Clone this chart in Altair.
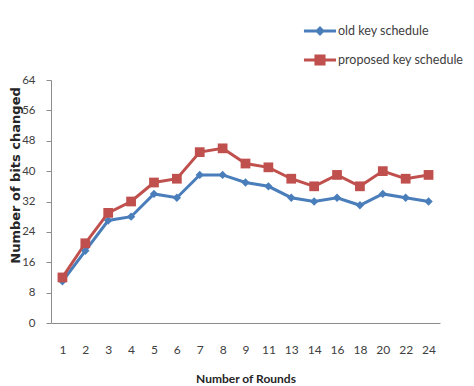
import altair as alt
import pandas as pd

rounds = ["1", "2", "3", "4", "5", "6", "7", "8", "9", "11", "13", "14", "16", "18", "20", "22", "24"]
old_key = [11, 19, 27, 28, 34, 33, 39, 39, 37, 36, 33, 32, 33, 31, 34, 33, 32]
proposed_key = [12, 21, 29, 32, 37, 38, 45, 46, 42, 41, 38, 36, 39, 36, 40, 38, 39]
series_names = ["old key schedule", "proposed key schedule"]
y_ticks = [0, 8, 16, 24, 32, 40, 48, 56, 64]
colors = ["#4A7EBB", "#C0504D"]

n = len(rounds)
df = pd.DataFrame({
    "round": rounds * 2,
    "idx": list(range(n)) * 2,
    "bits": old_key + proposed_key,
    "series": [series_names[0]] * n + [series_names[1]] * n,
})

color_scale = alt.Scale(domain=series_names, range=colors)

x_enc = alt.X(
    "round:O", sort=rounds,
    scale=alt.Scale(type="point", padding=0.5),
    axis=alt.Axis(
        title="Number of Rounds", labelAngle=0, ticks=False, tickSize=0,
        labelPadding=21, labelFont="Lato", labelFontSize=12, labelColor="#404040",
        domainColor="#8c8c8c", domainWidth=1,
        titleFont="Lato", titleFontSize=12, titleFontWeight="bold", titleColor="#262626",
        titleY=55, titleBaseline="middle",
    ),
)
y_enc = alt.Y(
    "bits:Q",
    scale=alt.Scale(domain=[0, 64], nice=False),
    axis=alt.Axis(
        values=y_ticks, grid=False, tickSize=5, tickColor="#8c8c8c",
        domainColor="#8c8c8c", labelPadding=11, labelFont="Lato", labelFontSize=11.5,
        labelColor="#404040",
        title="Number of bits changed", titleFont="DejaVu Sans", titleFontSize=13,
        titleFontWeight="bold", titleColor="#262626",
        titleX=-29, titleY=95, titleAlign="center",
    ),
)

base = alt.Chart(df)

lines = base.mark_line(strokeWidth=3).encode(
    x=x_enc, y=y_enc,
    color=alt.Color("series:N", scale=color_scale, legend=None),
    order=alt.Order("idx:Q"),
)

points = base.mark_point(filled=True, opacity=1).encode(
    x=x_enc, y=y_enc,
    color=alt.Color("series:N", scale=color_scale, legend=None),
    shape=alt.Shape("series:N", scale=alt.Scale(domain=series_names, range=["diamond", "square"]), legend=None),
    size=alt.Size("series:N", scale=alt.Scale(domain=series_names, range=[70, 95]), legend=None),
)

leg_paths = [
    "M-1.07,-0.1H1.07V0.1H-1.07Z M0,-0.33L0.33,0L0,0.33L-0.33,0Z",
    "M-1.07,-0.1H1.07V0.1H-1.07Z M-0.37,-0.37H0.37V0.37H-0.37Z",
]
legend = alt.Legend(
    title=None, orient="none", legendX=254, legendY=-64, symbolSize=900,
    symbolStrokeWidth=0, labelFont="Lato", labelFontSize=12.5, labelColor="#404040",
    labelOffset=3, rowPadding=7, padding=0, symbolOffset=0,
)
legend_layer = base.transform_filter("false").mark_point(filled=True, opacity=1).encode(
    color=alt.Color("series:N", scale=color_scale, legend=legend),
    shape=alt.Shape("series:N", scale=alt.Scale(domain=series_names, range=leg_paths), legend=legend),
)

chart = alt.layer(lines, points, legend_layer).resolve_scale(
    color="independent", shape="independent"
).properties(
    width=389, height=243,
    autosize=alt.AutoSizeParams(type="none"),
    padding={"left": 43, "top": 72, "right": 26, "bottom": 62},
    background="white",
).configure_view(stroke=None)

chart.save("out.html", embed_options={"renderer": "svg", "actions": False})
